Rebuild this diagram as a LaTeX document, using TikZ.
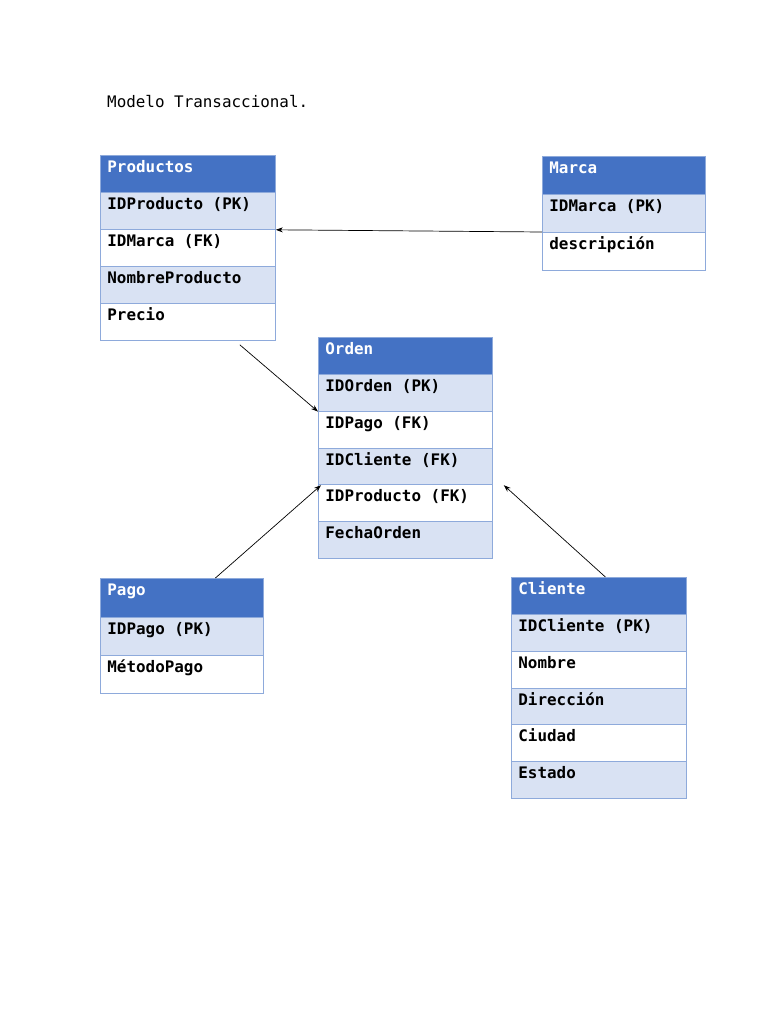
\documentclass[tikz,border=0pt]{standalone}
\usepackage{fontspec}
\setmonofont{DejaVu Sans Mono}
\usetikzlibrary{arrows.meta}

\definecolor{hdrblue}{HTML}{4472C4}
\definecolor{rowblue}{HTML}{D9E2F3}
\definecolor{rowline}{HTML}{8EAADB}

\tikzset{
  cell/.style={draw=rowline, line width=0.8pt, anchor=north west,
    inner xsep=7pt, inner ysep=0pt, text height=17pt, text depth=20pt,
    align=flush left, font=\fontsize{15.9}{18}\selectfont\ttfamily\bfseries},
  hdr/.style={cell, fill=hdrblue, text=white},
  fk/.style={-{Stealth[length=7pt,width=5pt]}, line width=0.7pt},
}

\begin{document}
\begin{tikzpicture}[x=1pt,y=-1pt]
\useasboundingbox[fill=white] (0,0) rectangle (768,1024);

\node[anchor=base west, inner sep=0pt, font=\fontsize{15.9}{18}\selectfont\ttfamily] (title) at (107,108) {Modelo Transaccional.};

% ===== Productos =====
\node[hdr, text width=161pt] (prod) at (100,155) {Productos};
\foreach \txt [count=\i] in {{IDProducto (PK)},{IDMarca (FK)},{NombreProducto},{Precio}} {
  \ifodd\i \def\rowfill{rowblue}\else \def\rowfill{white}\fi
  \node[cell, fill=\rowfill, text width=161pt] (prod\i) at (100,{192+(\i-1)*37}) {\txt};
}

% ===== Marca =====
\node[hdr, text width=149pt, text depth=21pt] (marca) at (542,156) {Marca};
\foreach \txt [count=\i] in {{IDMarca (PK)},{descripción}} {
  \ifodd\i \def\rowfill{rowblue}\else \def\rowfill{white}\fi
  \node[cell, fill=\rowfill, text width=149pt, text depth=21pt] (marca\i) at (542,{194+(\i-1)*38}) {\txt};
}

% ===== Orden =====
\node[hdr, text width=160pt] (orden) at (318,337) {Orden};
\foreach \txt [count=\i] in {{IDOrden (PK)},{IDPago (FK)},{IDCliente (FK)},{IDProducto (FK)},{FechaOrden}} {
  \ifodd\i \def\rowfill{rowblue}\else \def\rowfill{white}\fi
  \node[cell, fill=\rowfill, text width=160pt, text depth=19.8pt] (orden\i) at (318,{374+(\i-1)*36.8}) {\txt};
}

% ===== Pago =====
\node[hdr, text width=149pt, text depth=22pt] (pago) at (100,578) {Pago};
\foreach \txt [count=\i] in {{IDPago (PK)},{MétodoPago}} {
  \ifodd\i \def\rowfill{rowblue}\else \def\rowfill{white}\fi
  \node[cell, fill=\rowfill, text width=149pt, text depth=21pt] (pago\i) at (100,{617+(\i-1)*38}) {\txt};
}

% ===== Cliente =====
\node[hdr, text width=161pt] (cliente) at (511,577) {Cliente};
\foreach \txt [count=\i] in {{IDCliente (PK)},{Nombre},{Dirección},{Ciudad},{Estado}} {
  \ifodd\i \def\rowfill{rowblue}\else \def\rowfill{white}\fi
  \node[cell, fill=\rowfill, text width=161pt, text depth=19.8pt] (cliente\i) at (511,{614+(\i-1)*36.8}) {\txt};
}

% ===== relaciones =====
\draw[fk] (marca2.north west) -- (prod1.south east);
\draw[fk] ([xshift=-36pt,yshift=-4pt]prod4.south east) -- (orden1.south west);
\draw[fk] ([xshift=33.5pt]pago.north) -- ([xshift=3pt]orden3.south west);
\draw[fk] ([xshift=6.5pt]cliente.north) -- ([xshift=11pt]orden3.south east);

\end{tikzpicture}
\end{document}
